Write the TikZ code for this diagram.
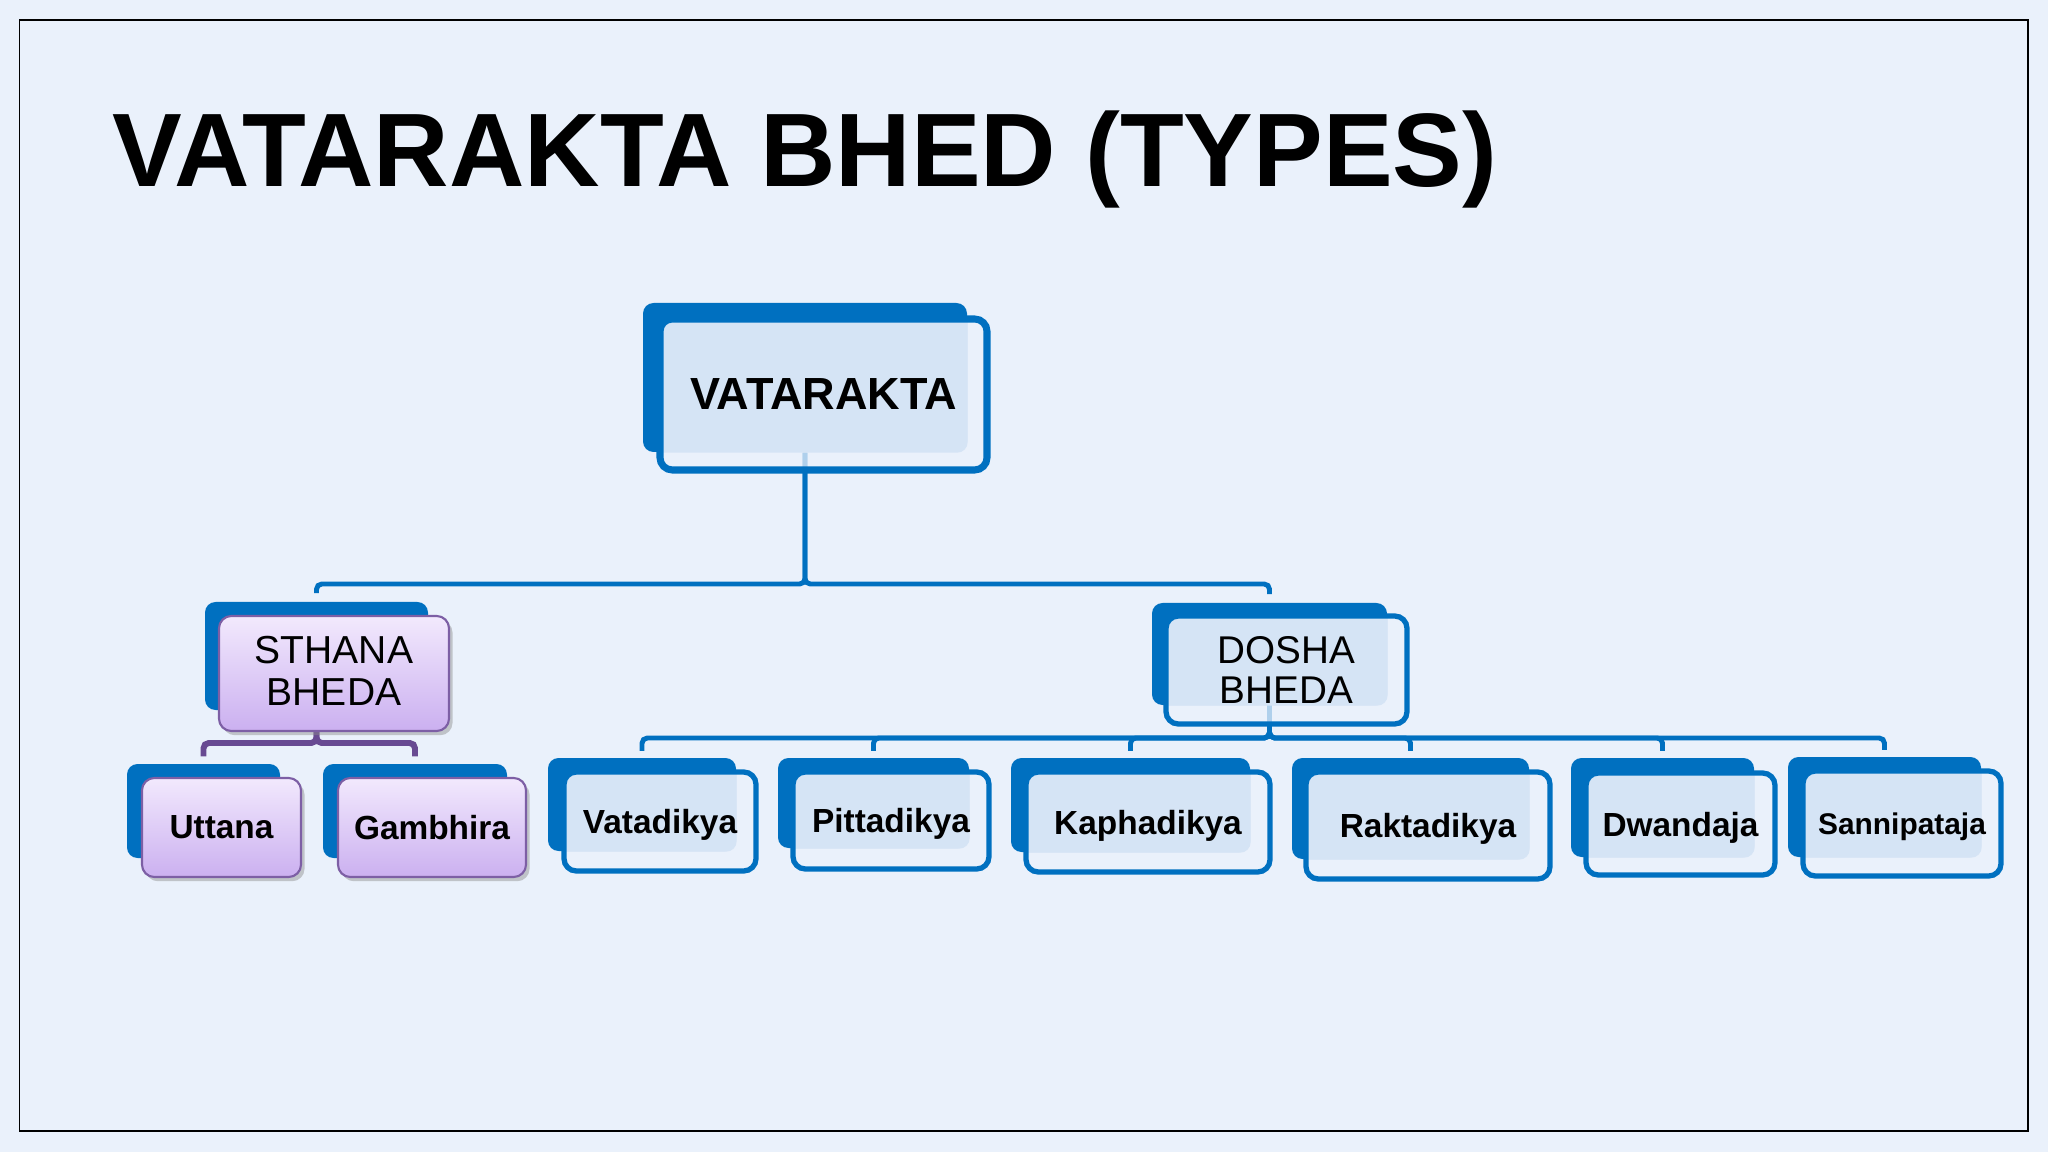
\documentclass[tikz,border=0pt]{standalone}
\usepackage{fontspec}
\setmainfont{Liberation Sans}
\usetikzlibrary{fit,shadows}

\definecolor{slidebg}{RGB}{234,241,251}
\definecolor{dkblue}{RGB}{0,112,192}
\definecolor{lite}{RGB}{213,228,245}
\definecolor{lavtop}{RGB}{242,233,253}
\definecolor{lavbot}{RGB}{203,176,240}
\definecolor{lavedge}{RGB}{125,95,165}
\definecolor{lavlink}{RGB}{104,74,146}

\begin{document}
\begin{tikzpicture}[x=0.01cm, y=-0.01cm,
  back/.style={fill=dkblue, rounded corners=3pt, inner sep=0pt},
  front/.style={draw=dkblue, line width=1.5pt, rounded corners=3.5pt,
    inner sep=0pt, fill=slidebg, fill opacity=0.75,
    path picture={\fill[lite, fill opacity=1, rounded corners=3pt]
      (#1.south west) rectangle (#1.north east);}},
  lav/.style={draw=lavedge, line width=0.6pt, rounded corners=3.5pt,
    inner sep=0pt, top color=lavtop, bottom color=lavbot,
    drop shadow={shadow xshift=1pt, shadow yshift=-1.2pt, fill=black!45, opacity=0.45}},
  link/.style={draw=dkblue, line width=1.4pt, rounded corners=1.5pt},
  lavlk/.style={draw=lavlink, line width=1.7pt, rounded corners=1.5pt},
  word/.style={font=\bfseries\fontsize{9.5}{11}\selectfont, text depth=0pt, inner sep=0pt},
  twoline/.style={align=center, font=\fontsize{11.1}{12}\selectfont, text depth=0pt, inner sep=0pt},
]
\useasboundingbox (0,0) rectangle (2048,1152);
\fill[slidebg] (0,0) rectangle (2048,1152);
\draw[line width=0.5pt] (19.5,20) rectangle (2028,1131);

\node[anchor=base west, inner sep=0pt, font=\bfseries\fontsize{29.7}{34}\selectfont] (title) at (112,187) {VATARAKTA BHED (TYPES)};

% back plates
\node[back, fit={(643,303) (967,452)}] (vk-bk) {};
\node[back, fit={(205,602) (428,710)}] (sb-bk) {};
\node[back, fit={(1152,603) (1387,705)}] (db-bk) {};
\node[back, fit={(127,764) (280,858)}] (ut-bk) {};
\node[back, fit={(323,764) (507,858)}] (gb-bk) {};
\node[back, fit={(548,758) (736,851)}] (vd-bk) {};
\node[back, fit={(778,758) (969,848)}] (pd-bk) {};
\node[back, fit={(1011,758) (1250,852)}] (kd-bk) {};
\node[back, fit={(1292,758) (1529,859)}] (rd-bk) {};
\node[back, fit={(1571,758) (1754,857)}] (dw-bk) {};
\node[back, fit={(1788,757) (1981,857)}] (sp-bk) {};

% connectors
\coordinate (bus1) at (0,584);
\coordinate (bus2) at (0,743);
\coordinate (bus3) at (0,738);
\draw[link, shorten >=2.3pt] (vk-bk.south) -- (vk-bk.south |- bus1) -| (sb-bk.north);
\draw[link, shorten >=2.3pt] (vk-bk.south) -- (vk-bk.south |- bus1) -| (db-bk.north);
\draw[lavlk, shorten >=2pt] (sb-bk.south) -- (sb-bk.south |- bus2) -| (ut-bk.north);
\draw[lavlk, shorten >=2pt] (sb-bk.south) -- (sb-bk.south |- bus2) -| (gb-bk.north);
\foreach \c in {vd,pd,kd,rd,dw,sp}
  \draw[link, shorten >=1.8pt] (db-bk.south) -- (db-bk.south |- bus3) -| (\c-bk.north);

% front boxes
\node[front=vk-bk, line width=2pt, fit={(660,319) (987,470)}] (vk) {};
\node[lav, fit={(219,616) (449,731)}] (sb) {};
\node[front=db-bk, fit={(1166,616) (1407,724)}] (db) {};
\node[lav, fit={(142,778) (301,877)}] (ut) {};
\node[lav, fit={(338,778) (526,877)}] (gb) {};
\node[front=vd-bk, fit={(564,772) (756,871)}] (vd) {};
\node[front=pd-bk, fit={(793,772) (989,869)}] (pd) {};
\node[front=kd-bk, fit={(1026,772) (1270,872)}] (kd) {};
\node[front=rd-bk, fit={(1306,772) (1550,879)}] (rd) {};
\node[front=dw-bk, fit={(1586,773) (1775,875)}] (dw) {};
\node[front=sp-bk, fit={(1803,771) (2001,876)}] (sp) {};

% labels
\node[word, font=\bfseries\fontsize{12.8}{14}\selectfont] (vk-t) at (vk) {VATARAKTA};
\node[twoline, yshift=0.7pt] (sb-t) at (sb) {STHANA\\BHEDA};
\node[twoline, font=\fontsize{11}{11.4}\selectfont] (db-t) at (db) {DOSHA\\BHEDA};
\node[word] (ut-t) at (ut) {Uttana};
\node[word] (gb-t) at (gb) {Gambhira};
\node[word] (vd-t) at (vd) {Vatadikya};
\node[word] (pd-t) at (pd) {Pittadikya};
\node[word] (kd-t) at (kd) {Kaphadikya};
\node[word] (rd-t) at (rd) {Raktadikya};
\node[word] (dw-t) at (dw) {Dwandaja};
\node[word, font=\bfseries\fontsize{8.5}{10}\selectfont] (sp-t) at (sp) {Sannipataja};

\end{tikzpicture}
\end{document}
